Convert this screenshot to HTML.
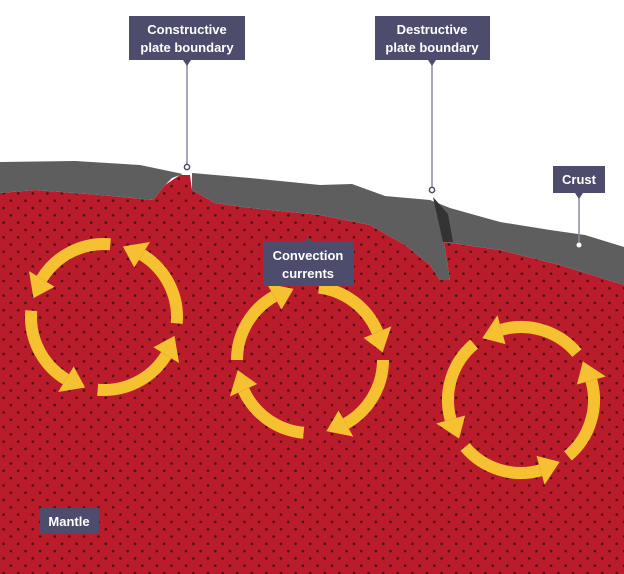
<!DOCTYPE html>
<html><head><meta charset="utf-8"><style>
html,body{margin:0;padding:0;background:#fff;}
svg{display:block;}
text{font-family:"Liberation Sans",sans-serif;font-weight:bold;font-size:13px;fill:#fff;}
</style></head><body>
<svg id="s" width="624" height="574" viewBox="0 0 624 574" xmlns="http://www.w3.org/2000/svg">
<defs>
<pattern id="dots" width="14.6" height="14.6" patternUnits="userSpaceOnUse">
<rect width="14.6" height="14.6" fill="#ba1c2c"/>
<circle cx="3.6" cy="3.6" r="1.3" fill="#4a1212"/>
<circle cx="10.9" cy="10.9" r="1.3" fill="#4a1212"/>
</pattern>
</defs>
<polygon fill="url(#dots)" points="0,193 35,190 100,195 153,200 165,185 180,175 190,175 192,190 215,203 250,208 320,215 370,225 405,245 430,265 440,280 450,280 444,242 500,250 560,265 624,285 624,574 0,574"/>
<polygon fill="#5e5e5e" points="0,162 75,161 140,165 183,174 172,178 165,185 153,200 100,195 35,190 0,193"/>
<polygon fill="#5e5e5e" points="192,173 250,178 320,185 352,184 385,196 430,200 450,208 500,222 550,230 585,235 624,247 624,285 560,265 500,250 444,242 450,280 440,280 430,265 405,245 370,225 320,215 250,208 215,203 192,190"/>
<polygon fill="#333" points="433,197 443,242 453,242 448,214"/>
<g id="arrows" fill="none"></g>
<g stroke="#8a88a0" stroke-width="1.5" fill="#fff">
<line x1="187" y1="60" x2="187" y2="165"/>
<circle cx="187" cy="167" r="2.6" stroke="#4e4c6c"/>
<line x1="432" y1="60" x2="432" y2="188"/>
<circle cx="432" cy="190" r="2.6" stroke="#4e4c6c"/>
<line x1="579" y1="193" x2="579" y2="244"/>
</g>
<circle cx="579" cy="245" r="2.5" fill="#fff"/>
<g fill="#4e4c6c">
<rect x="129" y="16" width="116" height="44"/><polygon points="183,60 191,60 187,66"/>
<rect x="375" y="16" width="115" height="44"/><polygon points="428,60 436,60 432,66"/>
<rect x="553" y="166" width="52" height="27"/><polygon points="575,193 583,193 579,199"/>
<rect x="263" y="242" width="91" height="44"/><polygon points="304,242 312,242 308,237"/>
<rect x="40" y="508" width="59" height="26"/>
</g>
<text x="187" y="34" text-anchor="middle">Constructive</text>
<text x="187" y="52" text-anchor="middle">plate boundary</text>
<text x="432" y="34" text-anchor="middle">Destructive</text>
<text x="432" y="52" text-anchor="middle">plate boundary</text>
<text x="579" y="184" text-anchor="middle">Crust</text>
<text x="308" y="260" text-anchor="middle">Convection</text>
<text x="308" y="278" text-anchor="middle">currents</text>
<text x="69" y="526" text-anchor="middle">Mantle</text>
</svg>
<script>
(function(){
var g=document.getElementById('arrows');var ns='http://www.w3.org/2000/svg';
function arrow(cx,cy,r,a0,span){
  var d=Math.PI/180;var head=21;var headAng=head/r/d;
  var dir=span>0?1:-1;
  var a1=a0+span-dir*headAng;
  var p0=[cx+r*Math.cos(a0*d),cy+r*Math.sin(a0*d)];
  var p1=[cx+r*Math.cos(a1*d),cy+r*Math.sin(a1*d)];
  var path=document.createElementNS(ns,'path');
  path.setAttribute('d','M'+p0[0]+' '+p0[1]+' A'+r+' '+r+' 0 0 '+(dir>0?1:0)+' '+p1[0]+' '+p1[1]);
  path.setAttribute('stroke','#f5c131');path.setAttribute('stroke-width','12');path.setAttribute('fill','none');
  g.appendChild(path);
  var te=a0+span;var tip=[cx+r*Math.cos(te*d),cy+r*Math.sin(te*d)];
  var rad=[Math.cos(a1*d),Math.sin(a1*d)];var w=15;
  var b1=[p1[0]+rad[0]*w,p1[1]+rad[1]*w],b2=[p1[0]-rad[0]*w,p1[1]-rad[1]*w];
  var poly=document.createElementNS(ns,'polygon');
  poly.setAttribute('points',b1.join(',')+' '+b2.join(',')+' '+tip.join(','));
  poly.setAttribute('fill','#f5c131');g.appendChild(poly);
}
[-85,-175,95,5].forEach(function(s){arrow(104,317,73,s,-80);});
[-83,0,95,180].forEach(function(s){arrow(310,360,73,s,77);});
[-40,-130,140,50].forEach(function(s){arrow(521,400,73,s,-82);});
})();
</script>
</body></html>
